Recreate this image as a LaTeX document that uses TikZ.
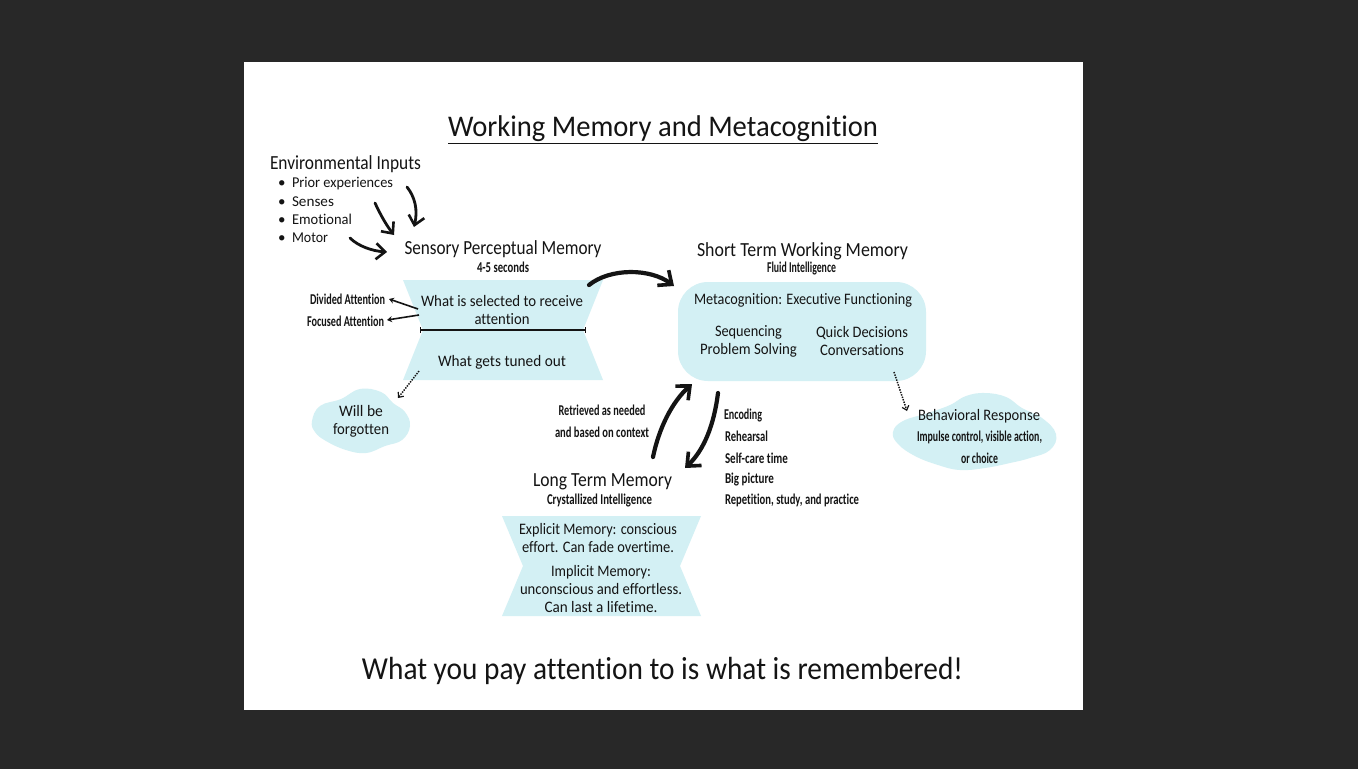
\documentclass[tikz,border=0pt]{standalone}
\usepackage{fontspec}
\usepackage{graphicx}
\usetikzlibrary{arrows.meta}
\setmainfont{Carlito}[Ligatures=NoCommon]
\newfontfamily\labfont{Carlito}[BoldFont={Carlito Bold},Ligatures=NoCommon]
\newcommand{\fitw}[2]{\resizebox{#1pt}{\height}{#2}}
\definecolor{ink}{HTML}{141414}
\definecolor{pale}{HTML}{D3F0F4}
\definecolor{backdrop}{HTML}{282828}
\tikzset{
  x=1pt,y=-1pt,
  every node/.style={text=ink,inner sep=0pt,outer sep=0pt},
  body/.style={font=\fontsize{16}{18}\selectfont,align=center},
  listitem/.style={font=\fontsize{15}{18}\selectfont,anchor=west},
  heading/.style={font=\fontsize{20}{22}\selectfont,align=center},
  small/.style={font=\labfont\bfseries\fontsize{15}{22}\selectfont,align=center},
  smallleft/.style={font=\labfont\bfseries\fontsize{15}{22}\selectfont,anchor=west},
  shapefill/.style={fill=pale,draw=none},
  heavy/.style={draw=ink,line width=4.2pt,line cap=round,-{Straight Barb[length=11pt,width=19pt,line width=3.6pt]}},
  medium/.style={draw=ink,line width=2.8pt,line cap=round,-{Straight Barb[length=9pt,width=16pt,line width=2.6pt]}},
  thin arrow/.style={draw=ink,line width=1.6pt,-{Stealth[length=5pt,width=6pt]}},
  dotted arrow/.style={draw=ink,line width=1.5pt,dash pattern=on 1.4pt off 1.2pt,-{Straight Barb[length=4pt,width=7pt,line width=1.2pt]}},
  divider/.style={draw=ink,line width=1.6pt,{|[width=6pt,line width=1pt]}-{|[width=6pt,line width=1pt]}},
}
\begin{document}
\begin{tikzpicture}
\useasboundingbox (0,0) rectangle (1358,769);
\fill[backdrop] (0,0) rectangle (1358,769);
\fill[white] (244,62) rectangle (1083,710);

% shapes
\fill[shapefill] (403,280) -- (603,280) -- (583,330) -- (603,380) -- (403,380) -- (423,330) -- cycle;
\fill[shapefill] (502,516) -- (701,516) -- (680,566) -- (701,616) -- (502,616) -- (523,566) -- cycle;
\fill[shapefill,rounded corners=30pt] (678,282) rectangle (926,381);
% clouds
\fill[shapefill] plot[smooth cycle,tension=0.7] coordinates {(312,421) (320,406) (341,399) (360,389) (381,392) (393,403) (405,412) (410,426) (402,440) (385,446) (366,453) (346,450) (326,441) (315,432)};
\fill[shapefill] plot[smooth cycle,tension=0.7] coordinates {(893,432) (903,421) (928,413) (950,405) (966,396) (985,393) (1006,397) (1022,408) (1042,418) (1056,434) (1050,450) (1030,458) (1010,463) (985,468) (960,470) (938,465) (915,456) (898,444)};

% texts
\node[font=\fontsize{30}{32}\selectfont] (title) at (663,130) {\underline{\fitw{430}{Working Memory and Metacognition}}};
\node[heading,anchor=west] (env) at (270,164) {\fitw{151}{Environmental Inputs}};
\node[listitem] (prior) at (278,184) {\makebox[14pt][l]{•}\fitw{101}{Prior experiences}};
\node[listitem] (senses) at (278,201.5) {\makebox[14pt][l]{•}\fitw{42}{Senses}};
\node[listitem] (emotional) at (278,219.5) {\makebox[14pt][l]{•}\fitw{60}{Emotional}};
\node[listitem] (motor) at (278,237.5) {\makebox[14pt][l]{•}\fitw{36}{Motor}};

\node[heading] (sensory) at (503,249) {\fitw{197}{Sensory Perceptual Memory}};
\node[small] (seconds) at (503,267) {\fitw{52}{4-5 seconds}};
\node[body] (selected) at (502,310) {\fitw{162}{What is selected to receive}\\\fitw{55}{attention}};
\node[body] (tuned) at (502,362) {\fitw{128}{What gets tuned out}};
\node[small] (divided) at (347.5,299) {\fitw{75}{Divided Attention}};
\node[small] (focused) at (345.5,321.5) {\fitw{77}{Focused Attention}};
\node[body] (forgotten) at (361,421) {\fitw{44}{Will be}\\\fitw{56}{forgotten}};

\node[heading] (short) at (802.5,251) {\fitw{211}{Short Term Working Memory}};
\node[small] (fluid) at (801.5,269) {\fitw{69}{Fluid Intelligence}};
\node[body] (meta) at (803,300) {\fitw{218}{Metacognition: Executive Functioning}};
\node[body] (seq) at (748.5,341) {\fitw{67}{Sequencing}\\\fitw{97}{Problem Solving}};
\node[body] (quick) at (862,340.5) {\fitw{92}{Quick Decisions}\\\fitw{84}{Conversations}};

\node[small] (retrieved) at (602,421) {\fitw{87}{Retrieved as needed}\\\fitw{94}{and based on context}};
\node[smallleft] (encoding) at (724,415.5) {\fitw{38}{Encoding}};
\node[smallleft] (rehearsal) at (725,436) {\fitw{43}{Rehearsal}};
\node[smallleft] (selfcare) at (725,458) {\fitw{63}{Self-care time}};
\node[smallleft] (bigpic) at (725,479) {\fitw{49}{Big picture}};
\node[smallleft] (repetition) at (725,500.5) {\fitw{134}{Repetition, study, and practice}};

\node[heading] (long) at (602.5,482) {\fitw{139}{Long Term Memory}};
\node[small] (crystal) at (599.5,500) {\fitw{105}{Crystallized Intelligence}};
\node[body] (explicit) at (598,537.5) {\fitw{158}{Explicit Memory: conscious}\\\fitw{152}{effort. Can fade overtime.}};
\node[body] (implicit) at (601,589) {\fitw{100}{Implicit Memory:}\\\fitw{162}{unconscious and effortless.}\\\fitw{113}{Can last a lifetime.}};

\node[heading,font=\fontsize{16}{18}\selectfont] (behav) at (979,416) {\fitw{122}{Behavioral Response}};
\node[small] (impulse) at (979.5,447) {\fitw{125}{Impulse control, visible action,}\\\fitw{37}{or choice}};

\node[font=\fontsize{32}{34}\selectfont] (closing) at (662.5,671) {\fitw{601}{What you pay attention to is what is remembered!}};

% connector ends
\coordinate (a1s) at (407,187); \coordinate (a1e) at (414,227);
\coordinate (a2s) at (375,203); \coordinate (a2e) at (394,235);
\coordinate (a3s) at (350,238); \coordinate (a3e) at (387,252);
\coordinate (bigs) at (589,285); \coordinate (bige) at (674,286);
\coordinate (ups) at (653,457); \coordinate (upe) at (692,384);
\coordinate (downs) at (718,393); \coordinate (downe) at (685,468);
\coordinate (d1s) at (418,309); \coordinate (d2s) at (419,315);
\coordinate (divs) at (420,330); \coordinate (dive) at (586,330);
\coordinate (fs) at (419,371); \coordinate (fe) at (398,398);
\coordinate (bs) at (894,372); \coordinate (be) at (907,411);
\coordinate (d1e) at (389,299); \coordinate (d2e) at (387,320);

% connectors
\draw[medium] (a1s) .. controls (415,197) and (418,210) .. (a1e);
\draw[medium] (a2s) .. controls (381,216) and (387,226) .. (a2e);
\draw[medium] (a3s) .. controls (358,246) and (372,251) .. (a3e);
\draw[heavy] (bigs) .. controls (610,268) and (650,268) .. (bige);
\draw[heavy] (ups) .. controls (659,428) and (672,402) .. (upe);
\draw[heavy] (downs) .. controls (714,425) and (704,450) .. (downe);
\draw[thin arrow] (d1s) -- (d1e);
\draw[thin arrow] (d2s) -- (d2e);
\draw[divider] (divs) -- (dive);
\draw[dotted arrow] (fs) -- (fe);
\draw[dotted arrow] (bs) -- (be);
\end{tikzpicture}
\end{document}
